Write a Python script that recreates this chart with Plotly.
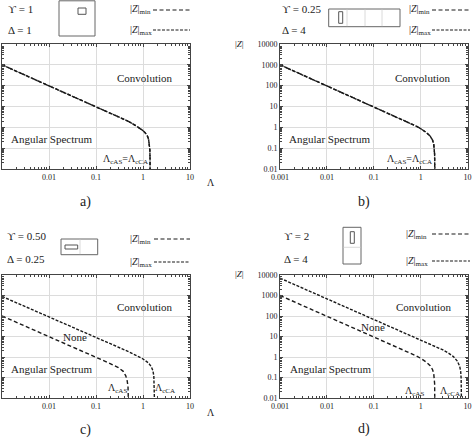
import plotly.graph_objects as go

W, H = 474, 438
FONT = "Liberation Serif, Times New Roman, serif"

# curve values (Lambda, |Z|)
lam_a = [0.001, 0.01, 0.1, 0.3, 0.5, 0.7, 1.0, 1.15, 1.25, 1.32, 1.37, 1.40, 1.412, 1.414, 1.4142]
z_a = [1000, 100, 10, 3.3, 1.9, 1.2, 0.7, 0.5, 0.37, 0.25, 0.15, 0.08, 0.03, 0.012, 0.005]

lam_b = [0.001, 0.01, 0.1, 0.3, 0.5, 0.8, 1.0, 1.3, 1.6, 1.8, 1.9, 1.96, 1.99, 2.0, 2.0001]
z_b = [1000, 100, 10, 3.3, 1.95, 1.15, 0.87, 0.58, 0.38, 0.24, 0.16, 0.09, 0.05, 0.012, 0.005]

lam_c_min = [0.001, 0.01, 0.1, 0.2, 0.3, 0.38, 0.43, 0.46, 0.48, 0.49, 0.4901]
z_c_min = [100, 10, 1.0, 0.48, 0.3, 0.2, 0.12, 0.07, 0.035, 0.012, 0.005]
lam_c_max = [0.001, 0.01, 0.1, 0.5, 1.0, 1.3, 1.5, 1.62, 1.7, 1.74, 1.76, 1.7601]
z_c_max = [900, 90, 9.5, 1.8, 0.8, 0.52, 0.34, 0.22, 0.12, 0.05, 0.012, 0.005]

lam_d_min = lam_b
z_d_min = z_b
lam_d_max = [0.001, 0.01, 0.1, 1.0, 2.0, 3.0, 4.0, 5.0, 6.0, 6.8, 7.15, 7.32, 7.4, 7.4001]
z_d_max = [7000, 700, 70, 6.9, 3.4, 2.2, 1.5, 1.05, 0.65, 0.36, 0.2, 0.09, 0.012, 0.005]

x_ticks = [0.001, 0.01, 0.1, 1, 10]
x_labels = ["0.001", "0.01", "0.1", "1", "10"]
y_ticks = [0.01, 0.1, 1, 10, 100, 1000, 10000]
y_labels = ["0.01", "0.1", "1", "10", "100", "1000", "10000"]

DASH_MIN = "4px,2.5px"
DASH_MAX = "3px,1.5px"


def px(x):
    return x / W


def py(y):
    return 1 - y / H


# panel boxes in pixels: left, right, top, bottom
boxes = {
    "a": (2, 190, 44, 169),
    "b": (280, 467.5, 44, 169),
    "c": (2, 190, 275, 398),
    "d": (280, 467.5, 275, 398),
}

fig = go.Figure()

curves = {
    "a": [(lam_a, z_a, DASH_MIN), (lam_a, z_a, DASH_MAX)],
    "b": [(lam_b, z_b, DASH_MIN), (lam_b, z_b, DASH_MAX)],
    "c": [(lam_c_min, z_c_min, DASH_MIN), (lam_c_max, z_c_max, DASH_MAX)],
    "d": [(lam_d_min, z_d_min, DASH_MIN), (lam_d_max, z_d_max, DASH_MAX)],
}

for i, key in enumerate(["a", "b", "c", "d"]):
    n = "" if i == 0 else str(i + 1)
    l, r, t, b = boxes[key]
    for lam, z, dash in curves[key]:
        fig.add_trace(go.Scatter(x=lam, y=z, mode="lines", xaxis="x" + n, yaxis="y" + n,
                                 line=dict(color="#1a1a1a", width=1.4, dash=dash),
                                 showlegend=False, hoverinfo="skip"))
    common = dict(type="log", showgrid=True, gridcolor="#dcdcdc", gridwidth=0.8,
                  showline=True, linecolor="#444", linewidth=1, mirror="ticks",
                  ticks="inside", ticklen=3, tickcolor="#444", automargin=False,
                  tickfont=dict(family=FONT, size=8, color="#222"), zeroline=False,
                  minor=dict(ticks="inside", ticklen=2, dtick="D1", tickcolor="#444", showgrid=False))
    fig.layout["xaxis" + n] = dict(common, domain=[px(l), px(r)], range=[-3, 1],
                                   tickvals=x_ticks, ticktext=x_labels, anchor="y" + n)
    fig.layout["yaxis" + n] = dict(common, domain=[py(b), py(t)], range=[-2, 4],
                                   tickvals=y_ticks, ticktext=y_labels, anchor="x" + n)

shapes = []
ann = []


def text(x, y, s, size=11, xanchor="center"):
    ann.append(dict(x=px(x), y=py(y), xref="paper", yref="paper", text=s, showarrow=False,
                    xanchor=xanchor, yanchor="middle", font=dict(family=FONT, size=size, color="#222")))


def rect(x0, y0, x1, y1, color="#666", width=1):
    shapes.append(dict(type="rect", xref="paper", yref="paper", x0=px(x0), x1=px(x1),
                       y0=py(y0), y1=py(y1), line=dict(color=color, width=width)))


def hline(x0, x1, y, dash, color="#1a1a1a", width=1.2):
    shapes.append(dict(type="line", xref="paper", yref="paper", x0=px(x0), x1=px(x1),
                       y0=py(y), y1=py(y), line=dict(color=color, width=width, dash=dash)))


def vline(x, y0, y1, color="#d0d0d0"):
    shapes.append(dict(type="line", xref="paper", yref="paper", x0=px(x), x1=px(x),
                       y0=py(y0), y1=py(y1), line=dict(color=color, width=0.8)))


# headers
headers = [
    ("ϒ = 1", "Δ = 1", 6, 8.5, 29.5, 128, 153, 190, 10, 30),
    ("ϒ = 0.25", "Δ = 4", 280, 8.5, 29.5, 407, 432, 470, 10, 30),
    ("ϒ = 0.50", "Δ = 0.25", 5, 236, 259, 128, 154, 190, 239, 262),
    ("ϒ = 2", "Δ = 4", 282, 236, 258.5, 404, 432, 470, 234, 261),
]
for u, d, hx, uy, dy, lx, ls, le, ly1, ly2 in headers:
    text(hx, uy, u, 11, "left")
    text(hx, dy, d, 11, "left")
    text(lx, ly1, "|<i>Z</i>|<sub>min</sub>", 10, "left")
    text(lx, ly2, "|<i>Z</i>|<sub>max</sub>", 10, "left")
    hline(ls, le, ly1, DASH_MIN)
    hline(ls, le, ly2, DASH_MAX)

# inset sketches
rect(59, 0.8, 95, 36)
rect(78, 8, 86, 14.3, "#555")
rect(328.7, 9, 400, 26.7)
for vx in [347, 365, 382]:
    vline(vx, 9.5, 26.2)
rect(338.7, 11.7, 342.7, 23.3, "#555")
rect(61, 239, 97.7, 254.7)
vline(80, 239.5, 254.2)
rect(65, 245, 77.7, 249, "#555")
rect(343, 227.3, 361, 264)
hline(343.5, 360.5, 247.3, "solid", "#d0d0d0", 0.8)
rect(350.3, 231.7, 354.3, 243.3, "#555")

# region labels
for ox in [0, 278]:
    text(145 + ox, 78, "Convolution")
    text(51 + ox, 139, "Angular Spectrum")
text(125, 159, "Λ<sub>cAS</sub>=Λ<sub>cCA</sub>", 10)
text(409.5, 159, "Λ<sub>cAS</sub>=Λ<sub>cCA</sub>", 10)

text(145, 307, "Convolution")
text(75, 337, "None")
text(51, 369, "Angular Spectrum")
text(117.5, 388, "Λ<sub>cAS</sub>", 10)
text(165, 388, "Λ<sub>cCA</sub>", 10)

text(424, 307, "Convolution")
text(373, 327, "None")
text(330, 369, "Angular Spectrum")
text(414.5, 391, "Λ<sub>cAS</sub>", 10)
text(450, 391, "Λ<sub>cCA</sub>", 10)

# axis titles
text(211, 182, "Λ", 10)
text(211, 412, "Λ", 10)
text(239.5, 44, "|<i>Z</i>|", 9)
text(239.5, 274, "|<i>Z</i>|", 9)

# panel letters
text(85, 202, "a)", 14)
text(364, 202, "b)", 14)
text(85, 430, "c)", 14)
text(364, 429, "d)", 14)

fig.update_layout(width=W, height=H, margin=dict(l=0, r=0, t=0, b=0),
                  template="none", paper_bgcolor="white", plot_bgcolor="white",
                  shapes=shapes, annotations=ann, showlegend=False)

fig.write_html("out.html", config={"displayModeBar": False},
               post_script="document.body.style.margin='0';")
